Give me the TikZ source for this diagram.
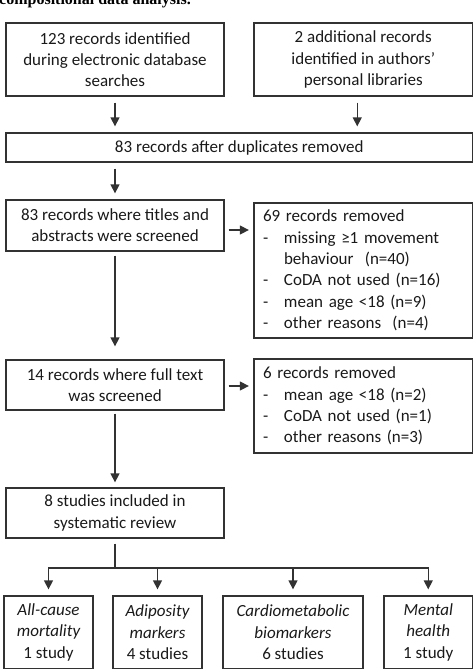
\documentclass[tikz,border=0pt]{standalone}
\usepackage{fontspec}
\setmainfont{Carlito}
\newfontfamily\captionfont{Liberation Serif}
\usetikzlibrary{arrows.meta}
\usetikzlibrary{positioning}
\usetikzlibrary{calc}
\definecolor{lineColor}{RGB}{50,50,50}
\definecolor{textColor}{RGB}{25,25,25}
\newcommand\dashitem[1]{\\\makebox[21pt][l]{-}#1}
\newcommand\moreitem[1]{\\\hspace*{21pt}#1}

\begin{document}
\begin{tikzpicture}[x=1pt,y=-1pt,
  box/.style={draw=lineColor, line width=1.3pt, inner sep=0pt, align=center,
    text=textColor, font=\fontsize{17}{21.3}\selectfont},
  listbox/.style={box, align=left, text width=#1, inner xsep=9pt},
  arr/.style={draw=lineColor, line width=1.3pt, -{Triangle[width=9pt,length=9pt]},
    shorten <=6pt, shorten >=6pt},
  conn/.style={draw=lineColor, line width=1.3pt}]
\useasboundingbox (0,0) rectangle (474,669);

\node [anchor=base west, inner sep=0pt, font=\captionfont\bfseries\fontsize{16}{18}\selectfont]
  (cap) at (-1,5) {compositional data analysis.};

\node [box, minimum width=218pt, minimum height=73pt] (rec1) at (115,59.5)
  {123 records identified\\during electronic database\\searches};
\node [box, minimum width=218.5pt, minimum height=73pt] (rec2) at (363.25,59.5)
  {2 additional records\\identified in authors'\\personal libraries};
\node [box, minimum width=466.5pt, minimum height=29pt] (dup) at (239.25,147.5)
  {83 records after duplicates removed};
\node [box, minimum width=218pt, minimum height=51pt] (scr) at (115,225.5)
  {83 records where titles and\\abstracts were screened};
\node [listbox=200.5pt, minimum width=218.5pt, minimum height=135pt] (exc1) at (363.25,270.5)
  {69 records removed\dashitem{missing ≥1 movement}\moreitem{behaviour\ \ (n=40)}%
   \dashitem{CoDA not used (n=16)}\dashitem{mean age <18 (n=9)}\dashitem{other reasons\ \ (n=4)}};
\node [box, minimum width=218pt, minimum height=50pt] (full) at (115,385)
  {14 records where full text\\was screened};
\node [listbox=200.5pt, minimum width=218.5pt, minimum height=94pt] (exc2) at (363.25,406)
  {6 records removed\dashitem{mean age <18 (n=2)}\dashitem{CoDA not used (n=1)}%
   \dashitem{other reasons (n=3)}};
\node [box, minimum width=218pt, minimum height=50pt] (incl) at (115,513)
  {8 studies included in\\systematic review};

\node [box, minimum width=89pt, minimum height=72.5pt] (allc) at (48.5,632.25)
  {\itshape All-cause\\\itshape mortality\\1 study};
\node [box, minimum width=89pt, minimum height=72.5pt] (adip) at (157.5,632.25)
  {\itshape Adiposity\\\itshape markers\\4 studies};
\node [box, minimum width=140pt, minimum height=72.5pt] (card) at (293,632.25)
  {\itshape Cardiometabolic\\\itshape biomarkers\\6 studies};
\node [box, minimum width=88.5pt, minimum height=72.5pt] (ment) at (428.25,632.25)
  {\itshape Mental\\\itshape health\\1 study};

\draw [arr] (rec1.south) -- (rec1.south |- dup.north);
\draw [arr] ([xshift=-6pt]rec2.south) -- ([xshift=-6pt]rec2.south |- dup.north);
\draw [arr] (dup.south -| rec1.south) -- (scr.north);
\draw [arr, shorten <=4pt, shorten >=4.5pt] ([yshift=-4.5pt]scr.east) -- ([yshift=-4.5pt]scr.east -| exc1.west);
\draw [arr, shorten <=4pt, shorten >=13pt] (scr.south) -- (full.north);
\draw [arr, shorten <=4pt, shorten >=4.5pt] ([yshift=-1pt]full.east) -- ([yshift=-1pt]full.east -| exc2.west);
\draw [arr, shorten <=3pt, shorten >=5pt] (full.south) -- (incl.north);

\coordinate (split) at (115,568);
\draw [conn, shorten <=5pt] (incl.south) -- (split);
\draw [conn, line cap=rect] (split -| allc.north) -- (split -| ment.north);
\foreach \b in {allc,adip,card,ment}
  \draw [arr, shorten <=0pt] (split -| \b.north) -- (\b.north);
\end{tikzpicture}
\end{document}
